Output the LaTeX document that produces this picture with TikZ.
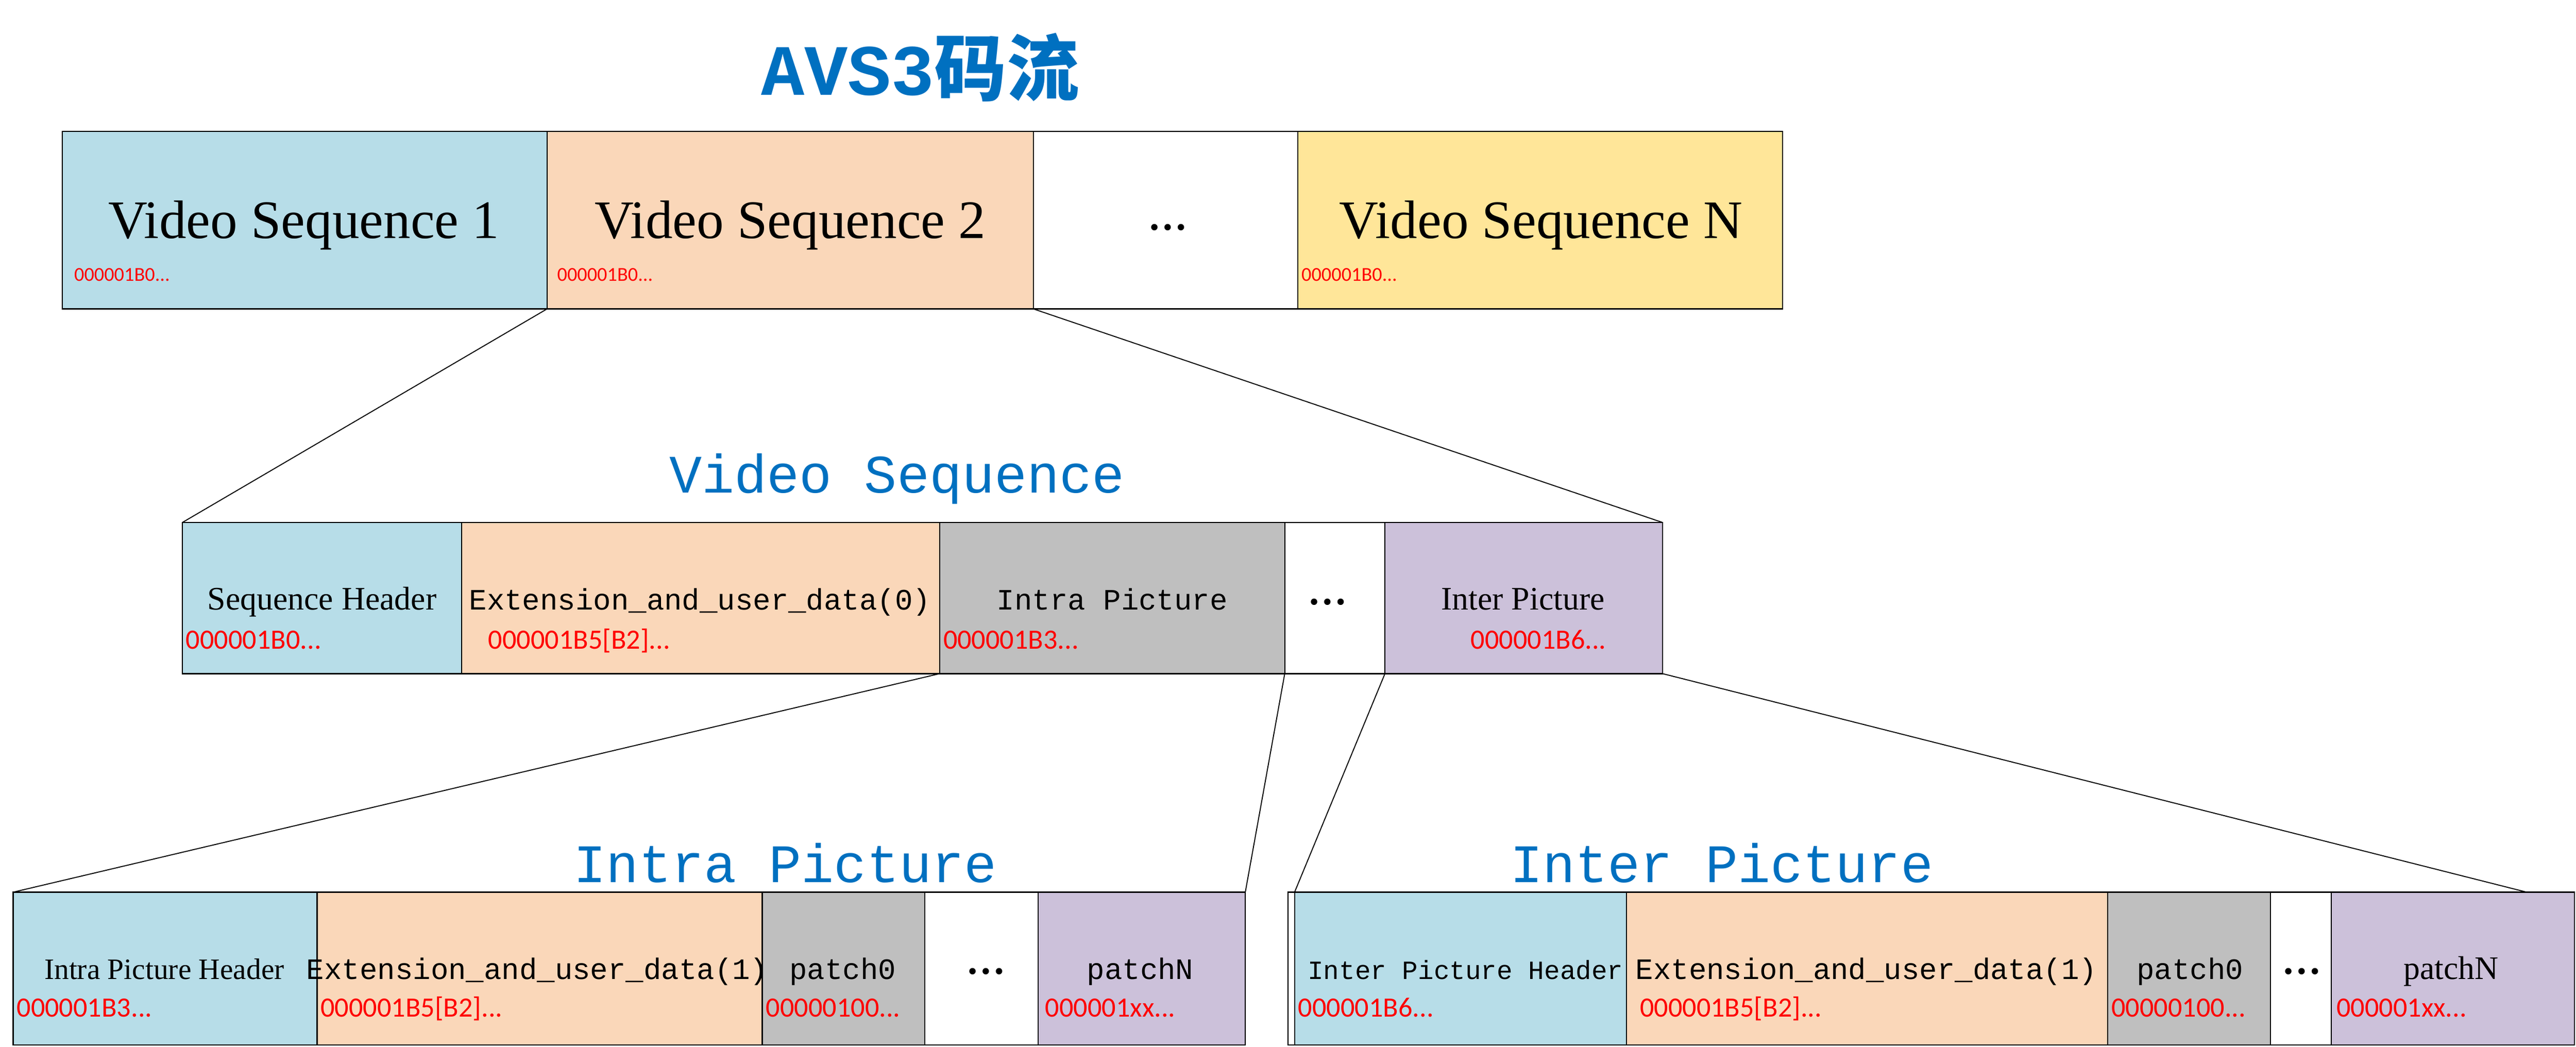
\documentclass[tikz,border=0pt]{standalone}
\usepackage{fontspec}
\setmainfont{Liberation Serif}
\newfontfamily\monof{Liberation Mono}
\newfontfamily\codef{Carlito}
\newfontfamily\cjkf{Noto Sans CJK SC}
\definecolor{cblue}{HTML}{B7DDE8}
\definecolor{cpeach}{HTML}{FAD7B9}
\definecolor{cyellow}{HTML}{FFE699}
\definecolor{cgray}{HTML}{BFBFBF}
\definecolor{cpurple}{HTML}{CCC1DA}
\definecolor{tblue}{HTML}{0070C0}
\definecolor{cred}{HTML}{FF0000}
\begin{document}
\begin{tikzpicture}[x=1pt,y=-1pt,
  box/.style={draw=black,line width=0.7pt,inner sep=0pt,outer sep=0pt,anchor=north west,rectangle},
  conn/.style={draw=black,line width=0.6pt},
  ttl/.style={text=tblue,inner sep=0pt,anchor=base},
  lbl/.style={inner sep=0pt,anchor=base},
  code/.style={inner sep=0pt,anchor=base west,text=cred},
  dots/.style={inner sep=0pt,anchor=base,font=\fontsize{24}{24}\selectfont\bfseries}]
\useasboundingbox (0,0) rectangle (1568,637);
% title
\node[ttl,font=\fontsize{44}{44}\selectfont] (t0) at (560,58) {{\monof\bfseries AVS3}{\cjkf\bfseries 码流}};
% top row
\node[box,fill=cblue,minimum width=295pt,minimum height=108pt] (vs1) at (38,80) {};
\node[box,fill=cpeach,minimum width=296pt,minimum height=108pt] (vs2) at (333,80) {};
\node[box,fill=white,minimum width=161pt,minimum height=108pt] (vsd) at (629,80) {};
\node[box,fill=cyellow,minimum width=295pt,minimum height=108pt] (vsn) at (790,80) {};
\node[lbl,font=\fontsize{33}{33}\selectfont] (l1) at (185,145) {Video Sequence 1};
\node[lbl,font=\fontsize{33}{33}\selectfont] (l2) at (481,145) {Video Sequence 2};
\node[dots] (l3) at (711,140) {…};
\node[lbl,font=\fontsize{33}{33}\selectfont] (l4) at (938,145) {Video Sequence N};
\node[code,font=\codef\fontsize{12}{12}\selectfont] (c1) at (45,171) {000001B0...};
\node[code,font=\codef\fontsize{12}{12}\selectfont] (c2) at (339,171) {000001B0...};
\node[code,font=\codef\fontsize{12}{12}\selectfont] (c4) at (792,171) {000001B0...};
% mid title
\node[ttl,font=\monof\fontsize{33}{33}\selectfont] (t1) at (546,300) {Video Sequence};
% mid row
\node[box,fill=cblue,minimum width=170pt,minimum height=92pt] (sh) at (111,318) {};
\node[box,fill=cpeach,minimum width=291pt,minimum height=92pt] (ex0) at (281,318) {};
\node[box,fill=cgray,minimum width=210pt,minimum height=92pt] (ip) at (572,318) {};
\node[box,fill=white,minimum width=61pt,minimum height=92pt] (md) at (782,318) {};
\node[box,fill=cpurple,minimum width=169pt,minimum height=92pt] (pp) at (843,318) {};
\node[lbl,font=\fontsize{20}{20}\selectfont] (m1) at (196,371) {Sequence Header};
\node[lbl,font=\monof\fontsize{18}{18}\selectfont] (m2) at (426,371) {Extension\_and\_user\_data(0)};
\node[lbl,font=\monof\fontsize{18}{18}\selectfont] (m3) at (677,371) {Intra Picture};
\node[dots] (m4) at (808,368) {…};
\node[lbl,font=\fontsize{20}{20}\selectfont] (m5) at (927,371) {Inter Picture};
\node[code,font=\codef\fontsize{17}{17}\selectfont] (mc1) at (113,395) {000001B0...};
\node[code,font=\codef\fontsize{17}{17}\selectfont] (mc2) at (297,395) {000001B5[B2]...};
\node[code,font=\codef\fontsize{17}{17}\selectfont] (mc3) at (574,395) {000001B3...};
\node[code,font=\codef\fontsize{17}{17}\selectfont] (mc5) at (895,395) {000001B6...};
% bottom titles
\node[ttl,font=\monof\fontsize{33}{33}\selectfont] (t2) at (478,537) {Intra Picture};
\node[ttl,font=\monof\fontsize{33}{33}\selectfont] (t3) at (1048,537) {Inter Picture};
% bottom left row
\node[box,fill=cblue,minimum width=185pt,minimum height=93pt] (ah) at (8,543) {};
\node[box,fill=cpeach,minimum width=271pt,minimum height=93pt] (ae) at (193,543) {};
\node[box,fill=cgray,minimum width=99pt,minimum height=93pt] (a0) at (464,543) {};
\node[box,fill=white,minimum width=69pt,minimum height=93pt] (ad) at (563,543) {};
\node[box,fill=cpurple,minimum width=126pt,minimum height=93pt] (an) at (632,543) {};
\node[lbl,font=\fontsize{18}{18}\selectfont] (b1) at (100,596) {Intra Picture Header};
\node[lbl,font=\monof\fontsize{18}{18}\selectfont] (b2) at (327,596) {Extension\_and\_user\_data(1)};
\node[lbl,font=\monof\fontsize{18}{18}\selectfont] (b3) at (513,596) {patch0};
\node[dots] (b4) at (600,593) {…};
\node[lbl,font=\monof\fontsize{18}{18}\selectfont] (b5) at (694,596) {patchN};
\node[code,font=\codef\fontsize{17}{17}\selectfont] (bc1) at (10,619) {000001B3...};
\node[code,font=\codef\fontsize{17}{17}\selectfont] (bc2) at (195,619) {000001B5[B2]...};
\node[code,font=\codef\fontsize{17}{17}\selectfont] (bc3) at (466,619) {00000100...};
\node[code,font=\codef\fontsize{17}{17}\selectfont] (bc5) at (636,619) {000001xx...};
% bottom right row
\node[box,fill=white,minimum width=4pt,minimum height=93pt] (es) at (784,543) {};
\node[box,fill=cblue,minimum width=202pt,minimum height=93pt] (eh) at (788,543) {};
\node[box,fill=cpeach,minimum width=293pt,minimum height=93pt] (ee) at (990,543) {};
\node[box,fill=cgray,minimum width=99pt,minimum height=93pt] (e0) at (1283,543) {};
\node[box,fill=white,minimum width=37pt,minimum height=93pt] (ed) at (1382,543) {};
\node[box,fill=cpurple,minimum width=148pt,minimum height=93pt] (en) at (1419,543) {};
\node[lbl,font=\monof\fontsize{16}{16}\selectfont] (r1) at (892,596) {Inter Picture Header};
\node[lbl,font=\monof\fontsize{18}{18}\selectfont] (r2) at (1136,596) {Extension\_and\_user\_data(1)};
\node[lbl,font=\monof\fontsize{18}{18}\selectfont] (r3) at (1333,596) {patch0};
\node[dots] (r4) at (1401,593) {…};
\node[lbl,font=\fontsize{20}{20}\selectfont] (r5) at (1492,596) {patchN};
\node[code,font=\codef\fontsize{17}{17}\selectfont] (rc1) at (790,619) {000001B6...};
\node[code,font=\codef\fontsize{17}{17}\selectfont] (rc2) at (998,619) {000001B5[B2]...};
\node[code,font=\codef\fontsize{17}{17}\selectfont] (rc3) at (1285,619) {00000100...};
\node[code,font=\codef\fontsize{17}{17}\selectfont] (rc5) at (1422,619) {000001xx...};
% connectors
\draw[conn] (vs2.south west) -- (sh.north west);
\draw[conn] (vs2.south east) -- (pp.north east);
\draw[conn] (ip.south west) -- (ah.north west);
\draw[conn] (md.south west) -- (an.north east);
\draw[conn] (pp.south west) -- (eh.north west);
\draw[conn] (pp.south east) -- (en.north west -| 1538,0);
\end{tikzpicture}
\end{document}
